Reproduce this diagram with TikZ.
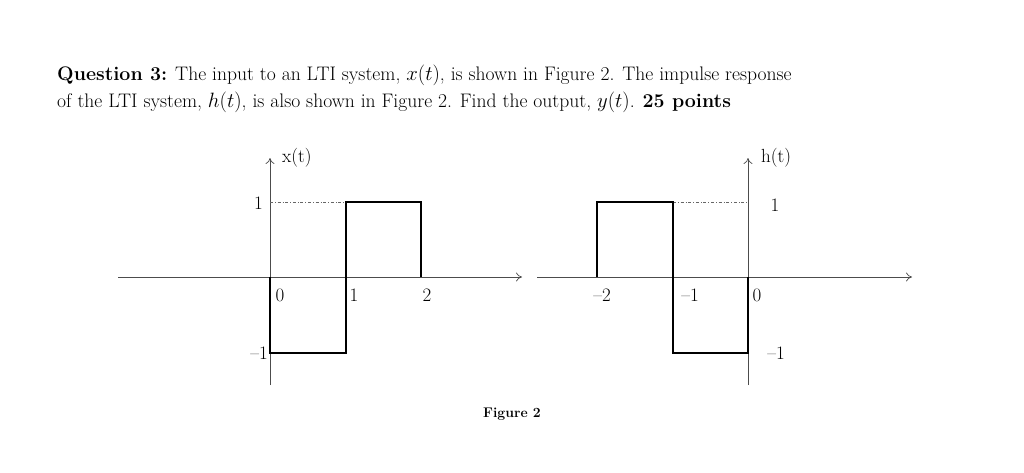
\documentclass[tikz,border=0pt]{standalone}
\usepackage{helvet}
\usetikzlibrary{arrows.meta}
\begin{document}
\begin{tikzpicture}[x=1pt,y=-1pt,
  ax/.style={draw=black!70,line width=0.7pt,-{To[length=6pt,width=9pt]}},
  sig/.style={draw=black,line width=1.3pt},
  ref/.style={draw=black!60,line width=0.6pt,dash dot},
  lab/.style={font=\fontsize{19}{22}\selectfont\sffamily\bfseries,inner sep=1pt},
  txt/.style={font=\fontsize{19.6}{24}\selectfont,inner sep=0pt,anchor=base west}]
\useasboundingbox (0,0) rectangle (1024,472);
\node[txt] (l1) at (57,80) {\textbf{Question 3:} The input to an LTI system, $x(t)$, is shown in Figure 2. The impulse response};
\node[txt] (l2) at (57,107) {of the LTI system, $h(t)$, is also shown in Figure 2. Find the output, $y(t)$. \textbf{25 points}};
\node[font=\fontsize{14}{16}\selectfont\bfseries] (fig) at (512,414) {Figure 2};
% left
\coordinate (xa0) at (118,277); \coordinate (xa1) at (522,277);
\coordinate (ya0) at (270,385); \coordinate (ya1) at (270,158);
\draw[ax] (xa0) -- (xa1);
\draw[ax] (ya0) -- (ya1);
\draw[ref] (270,202) -- (346,202);
\draw[sig] (270,277) -- (270,353) -- (346,353) -- (346,202) -- (421,202) -- (421,277);
\node[lab,anchor=west] (xl) at (281,158) {x(t)};
\node[lab,anchor=east] (x1) at (264,203) {1};
\node[lab,anchor=east] (xm1) at (269,353) {--1};
\node[lab] (x0) at (280,295) {0};
\node[lab] (x1t) at (354,295) {1};
\node[lab] (x2t) at (427,295) {2};
% right
\coordinate (xb0) at (537,277); \coordinate (xb1) at (912,277);
\coordinate (yb0) at (748,385); \coordinate (yb1) at (748,158);
\draw[ax] (xb0) -- (xb1);
\draw[ax] (yb0) -- (yb1);
\draw[ref] (673,202) -- (748,202);
\draw[sig] (597,277) -- (597,202) -- (673,202) -- (673,353) -- (748,353) -- (748,277);
\node[lab,anchor=west] (hl) at (760,158) {h(t)};
\node[lab] (h1) at (775,205) {1};
\node[lab] (hm1) at (776,353) {--1};
\node[lab] (hm2) at (602,295) {--2};
\node[lab] (hm1t) at (690,295) {--1};
\node[lab] (h0) at (757,295) {0};
\end{tikzpicture}
\end{document}
